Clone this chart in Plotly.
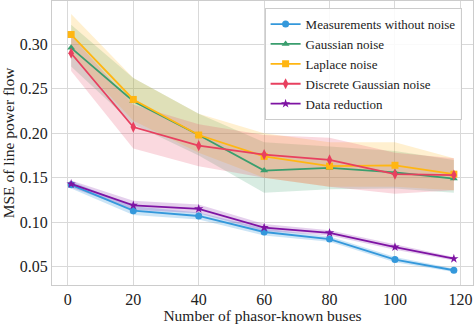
import plotly.graph_objects as go

# Data
buses = [1, 20, 40, 60, 80, 100, 118]

no_noise = [0.142, 0.113, 0.107, 0.089, 0.081, 0.058, 0.046]
no_noise_lo = [0.138, 0.108, 0.103, 0.085, 0.078, 0.055, 0.044]
no_noise_hi = [0.146, 0.118, 0.111, 0.093, 0.084, 0.061, 0.048]

gaussian = [0.296, 0.236, 0.198, 0.158, 0.161, 0.156, 0.149]
gaussian_lo = [0.275, 0.210, 0.175, 0.133, 0.137, 0.138, 0.133]
gaussian_hi = [0.322, 0.262, 0.222, 0.190, 0.185, 0.180, 0.170]

laplace = [0.311, 0.238, 0.198, 0.174, 0.163, 0.164, 0.154]
laplace_lo = [0.288, 0.214, 0.178, 0.150, 0.140, 0.140, 0.136]
laplace_hi = [0.334, 0.262, 0.222, 0.200, 0.190, 0.190, 0.172]

discrete = [0.290, 0.207, 0.186, 0.176, 0.170, 0.154, 0.153]
discrete_lo = [0.270, 0.183, 0.163, 0.150, 0.140, 0.132, 0.136]
discrete_hi = [0.310, 0.232, 0.210, 0.198, 0.195, 0.178, 0.172]

reduction = [0.143, 0.119, 0.115, 0.094, 0.088, 0.072, 0.059]
reduction_lo = [0.139, 0.114, 0.110, 0.090, 0.085, 0.069, 0.057]
reduction_hi = [0.147, 0.124, 0.120, 0.098, 0.091, 0.075, 0.061]

series = [
    ("Measurements without noise", no_noise, no_noise_lo, no_noise_hi, "#3498db", "rgba(52,152,219,0.25)", "circle", 7),
    ("Gaussian noise", gaussian, gaussian_lo, gaussian_hi, "#3a9e6e", "rgba(58,158,110,0.2)", "triangle-up", 7),
    ("Laplace noise", laplace, laplace_lo, laplace_hi, "#ffb612", "rgba(255,182,18,0.2)", "square", 7),
    ("Discrete Gaussian noise", discrete, discrete_lo, discrete_hi, "#e8405f", "rgba(232,64,95,0.2)", "diamond-tall", 8),
    ("Data reduction", reduction, reduction_lo, reduction_hi, "#7e13a3", "rgba(126,19,163,0.2)", "star", 7),
]

fig = go.Figure()
for name, y, lo, hi, col, fcol, sym, ms in series:
    fig.add_trace(go.Scatter(
        x=buses + buses[::-1], y=hi + lo[::-1], fill="toself", fillcolor=fcol,
        line=dict(width=0), mode="lines", hoverinfo="skip", showlegend=False))
for name, y, lo, hi, col, fcol, sym, ms in series:
    fig.add_trace(go.Scatter(
        x=buses, y=y, name=name, mode="lines+markers",
        line=dict(color=col, width=1.8),
        marker=dict(symbol=sym, size=ms, color=col)))

font = "Liberation Serif"
fig.update_layout(
    width=474, height=324,
    margin=dict(l=52, r=1, t=1, b=39),
    paper_bgcolor="white", plot_bgcolor="white",
    font=dict(family=font, size=16, color="#222"),
    showlegend=True,
    legend=dict(x=0.505, y=0.975, xanchor="left", yanchor="top",
                bgcolor="rgba(255,255,255,0.85)", bordercolor="#cccccc", borderwidth=1,
                font=dict(family=font, size=13, color="#222"),
                tracegroupgap=0, itemwidth=30),
)
fig.update_xaxes(
    range=[-4.85, 123.85], tickvals=[0, 20, 40, 60, 80, 100, 120],
    showgrid=True, gridcolor="#d9d9d9", gridwidth=1,
    showline=True, linecolor="#cccccc", linewidth=1.2, mirror=True,
    zeroline=False, ticks="",
    title=dict(text="Number of phasor-known buses", standoff=2, font=dict(size=15.5)),
)
fig.update_yaxes(
    range=[0.0294, 0.3487], tickvals=[0.05, 0.10, 0.15, 0.20, 0.25, 0.30],
    tickformat=".2f",
    showgrid=True, gridcolor="#d9d9d9", gridwidth=1,
    showline=True, linecolor="#cccccc", linewidth=1.2, mirror=True,
    zeroline=False, ticks="",
    title=dict(text="MSE of line power flow", standoff=5, font=dict(size=15.5)),
)
fig.write_html("out.html")
